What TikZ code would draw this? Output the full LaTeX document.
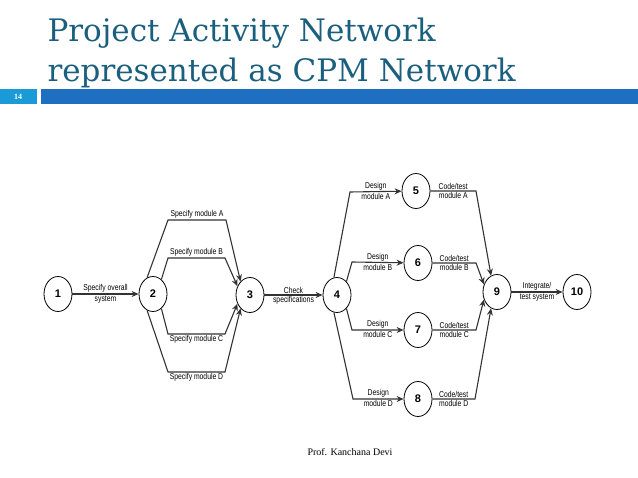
\documentclass[tikz,border=0pt]{standalone}
\usepackage{fontspec}
\setmainfont{Liberation Serif}
\newfontfamily\titlefont{DejaVu Serif}
\newfontfamily\lblfont{Liberation Sans}
\usetikzlibrary{arrows.meta,shapes.geometric}
\definecolor{titleblue}{HTML}{1B5F7E}
\definecolor{barblue}{HTML}{1F6FC0}
\definecolor{numblue}{HTML}{1A9BD7}
\begin{document}
\begin{tikzpicture}[x=1pt,y=-1pt,
  ev/.style={draw,thick,ellipse,minimum width=28pt,minimum height=35pt,inner sep=0pt,font=\lblfont\bfseries\fontsize{11}{11}\selectfont},
  act/.style={draw=black!80,line width=1.1pt},
  arr/.style={act,-{Stealth[length=7pt,width=6pt]}},
  lbl/.style={font=\lblfont\fontsize{8.5}{9}\selectfont,inner sep=1pt,xscale=0.8}
]
\useasboundingbox (0,0) rectangle (638,478);
% header
\node[anchor=west,text=titleblue,font=\titlefont\fontsize{31}{40}\selectfont,align=left] (title) at (44,53) {Project Activity Network\\represented as CPM Network};
\fill[numblue] (0,89) rectangle (37,104);
\node[text=white,font=\bfseries\fontsize{8}{8}\selectfont] (num) at (18,96.5) {14};
\fill[barblue] (41,89) rectangle (638,104);
% events
\node[ev] (n1) at (58,294) {1};
\node[ev] (n2) at (153,294) {2};
\node[ev] (n3) at (250,295) {3};
\node[ev] (n4) at (337,295) {4};
\node[ev] (n5) at (416,191) {5};
\node[ev] (n6) at (418,263) {6};
\node[ev] (n7) at (418,330) {7};
\node[ev] (n8) at (418,399) {8};
\node[ev] (n9) at (497,292) {9};
\node[ev] (n10) at (577,292) {10};
% 1->2
\draw[arr] (n1) -- node[lbl,above]{Specify overall} node[lbl,below]{system} (n2);
% 2->3
\draw[arr] (n2.110) -- (168,220) -- node[lbl,above]{Specify module A} (226,220) -- (n3.125);
\draw[arr] (n2.60) -- (168,258) -- node[lbl,above]{Specify module B} (225,258) -- (n3.145);
\draw[arr] (n2.-60) -- (168,334) -- node[lbl,below]{Specify module C} (225,334) -- (n3.-145);
\draw[arr] (n2.-110) -- (168,372) -- node[lbl,below]{Specify module D} (225,372) -- (n3.-125);
% 3->4
\draw[arr] (n3) -- node[lbl,above]{Check} node[lbl,below]{specifications} (n4);
% 4->5..8
\draw[arr] (n4.100) -- (350,192) -- node[lbl,above]{Design} node[lbl,below]{module A} (n5);
\draw[arr] (n4.55) -- (352,262) -- node[lbl,above]{Design} node[lbl,below]{module B} (n6);
\draw[arr] (n4.-55) -- (352,330) -- node[lbl,above]{Design} node[lbl,below]{module C} (n7);
\draw[arr] (n4.-100) -- (353,399) -- node[lbl,above]{Design} node[lbl,below]{module D} (n8);
% 5..8 -> 9
\draw[arr] (n5.east) -- node[lbl,above]{Code/test} node[lbl,below]{module A} (476,191) -- (n9.110);
\draw[arr] (n6.east) -- node[lbl,above]{Code/test} node[lbl,below]{module B} (476,263) -- (n9.150);
\draw[arr] (n7.east) -- node[lbl,above]{Code/test} node[lbl,below]{module C} (476,330) -- (n9.-150);
\draw[arr] (n8.east) -- node[lbl,above]{Code/test} node[lbl,below]{module D} (475,399) -- (n9.-110);
% 9->10
\draw[arr] (n9) -- node[lbl,above]{Integrate/} node[lbl,below]{test system} (n10);
% footer
\node[font=\fontsize{10}{11}\selectfont] (foot) at (350,452) {Prof. Kanchana Devi};
\end{tikzpicture}
\end{document}
